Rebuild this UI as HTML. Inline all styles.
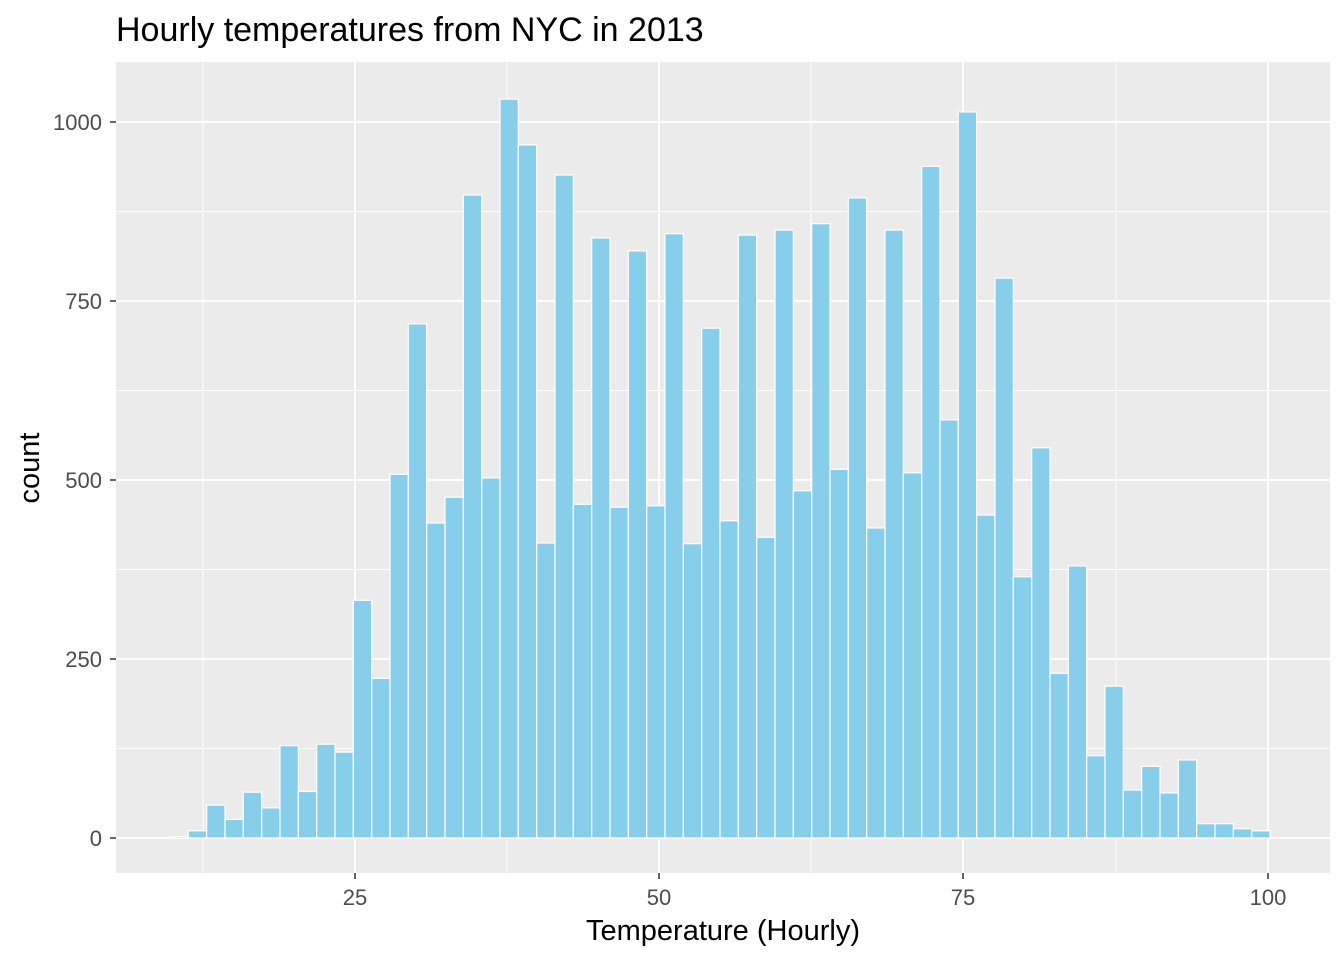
<!DOCTYPE html>
<html><head><meta charset="utf-8"><style>
html,body{margin:0;padding:0;background:#fff}
svg{display:block;font-family:"Liberation Sans",Arial,sans-serif}
</style></head><body>
<svg width="1344" height="960" viewBox="0 0 1344 960" xmlns="http://www.w3.org/2000/svg">
<rect width="1344" height="960" fill="#fff"/>
<rect x="116" y="62" width="1214" height="811" fill="#ebebeb"/>
<g stroke="#fff" stroke-width="1">
<line x1="116" x2="1330" y1="748.5" y2="748.5"/><line x1="116" x2="1330" y1="569.5" y2="569.5"/>
<line x1="116" x2="1330" y1="390.5" y2="390.5"/><line x1="116" x2="1330" y1="211.5" y2="211.5"/>
<line x1="203" x2="203" y1="62" y2="873"/><line x1="507" x2="507" y1="62" y2="873"/>
<line x1="811" x2="811" y1="62" y2="873"/><line x1="1116" x2="1116" y1="62" y2="873"/>
</g>
<g stroke="#fff" stroke-width="2">
<line x1="116" x2="1330" y1="838" y2="838"/><line x1="116" x2="1330" y1="659" y2="659"/>
<line x1="116" x2="1330" y1="480" y2="480"/><line x1="116" x2="1330" y1="301" y2="301"/>
<line x1="116" x2="1330" y1="122" y2="122"/>
<line x1="355" x2="355" y1="62" y2="873"/><line x1="659" x2="659" y1="62" y2="873"/>
<line x1="963" x2="963" y1="62" y2="873"/><line x1="1268" x2="1268" y1="62" y2="873"/>
</g>
<g fill="#87ceeb" stroke="#fff" stroke-width="1.2">
<rect x="170.0" y="836.6" width="18.33" height="1.4"/>
<rect x="188.3" y="830.8" width="18.33" height="7.2"/>
<rect x="206.7" y="805.1" width="18.33" height="32.9"/>
<rect x="225.0" y="819.4" width="18.33" height="18.6"/>
<rect x="243.3" y="792.2" width="18.33" height="45.8"/>
<rect x="261.7" y="807.9" width="18.33" height="30.1"/>
<rect x="280.0" y="745.6" width="18.33" height="92.4"/>
<rect x="298.3" y="791.5" width="18.33" height="46.5"/>
<rect x="316.7" y="744.2" width="18.33" height="93.8"/>
<rect x="335.0" y="752.1" width="18.33" height="85.9"/>
<rect x="353.3" y="600.3" width="18.33" height="237.7"/>
<rect x="371.7" y="678.3" width="18.33" height="159.7"/>
<rect x="390.0" y="474.3" width="18.33" height="363.7"/>
<rect x="408.3" y="323.9" width="18.33" height="514.1"/>
<rect x="426.7" y="523.0" width="18.33" height="315.0"/>
<rect x="445.0" y="497.2" width="18.33" height="340.8"/>
<rect x="463.3" y="195.0" width="18.33" height="643.0"/>
<rect x="481.7" y="477.9" width="18.33" height="360.1"/>
<rect x="500.0" y="99.1" width="18.33" height="738.9"/>
<rect x="518.3" y="144.9" width="18.33" height="693.1"/>
<rect x="536.7" y="543.0" width="18.33" height="295.0"/>
<rect x="555.0" y="175.0" width="18.33" height="663.0"/>
<rect x="573.3" y="504.3" width="18.33" height="333.7"/>
<rect x="591.7" y="238.0" width="18.33" height="600.0"/>
<rect x="610.0" y="507.2" width="18.33" height="330.8"/>
<rect x="628.3" y="250.9" width="18.33" height="587.1"/>
<rect x="646.7" y="505.8" width="18.33" height="332.2"/>
<rect x="665.0" y="233.7" width="18.33" height="604.3"/>
<rect x="683.3" y="543.7" width="18.33" height="294.3"/>
<rect x="701.7" y="328.2" width="18.33" height="509.8"/>
<rect x="720.0" y="520.8" width="18.33" height="317.2"/>
<rect x="738.3" y="235.1" width="18.33" height="602.9"/>
<rect x="756.7" y="537.3" width="18.33" height="300.7"/>
<rect x="775.0" y="230.1" width="18.33" height="607.9"/>
<rect x="793.3" y="490.7" width="18.33" height="347.3"/>
<rect x="811.7" y="223.7" width="18.33" height="614.3"/>
<rect x="830.0" y="469.3" width="18.33" height="368.7"/>
<rect x="848.3" y="197.9" width="18.33" height="640.1"/>
<rect x="866.7" y="528.0" width="18.33" height="310.0"/>
<rect x="885.0" y="230.1" width="18.33" height="607.9"/>
<rect x="903.3" y="472.8" width="18.33" height="365.2"/>
<rect x="921.7" y="166.4" width="18.33" height="671.6"/>
<rect x="940.0" y="419.9" width="18.33" height="418.1"/>
<rect x="958.3" y="112.0" width="18.33" height="726.0"/>
<rect x="976.7" y="515.1" width="18.33" height="322.9"/>
<rect x="995.0" y="278.1" width="18.33" height="559.9"/>
<rect x="1013.3" y="576.7" width="18.33" height="261.3"/>
<rect x="1031.7" y="447.8" width="18.33" height="390.2"/>
<rect x="1050.0" y="673.3" width="18.33" height="164.7"/>
<rect x="1068.3" y="565.9" width="18.33" height="272.1"/>
<rect x="1086.7" y="755.7" width="18.33" height="82.3"/>
<rect x="1105.0" y="686.2" width="18.33" height="151.8"/>
<rect x="1123.3" y="790.0" width="18.33" height="48.0"/>
<rect x="1141.7" y="766.4" width="18.33" height="71.6"/>
<rect x="1160.0" y="792.9" width="18.33" height="45.1"/>
<rect x="1178.3" y="760.0" width="18.33" height="78.0"/>
<rect x="1196.7" y="823.7" width="18.33" height="14.3"/>
<rect x="1215.0" y="823.7" width="18.33" height="14.3"/>
<rect x="1233.3" y="828.7" width="18.33" height="9.3"/>
<rect x="1251.7" y="830.8" width="18.33" height="7.2"/>
</g>
<g fill="#4d4d4d" font-size="22" text-anchor="end">
<text x="102" y="846">0</text><text x="102" y="667">250</text><text x="102" y="488">500</text>
<text x="102" y="309">750</text><text x="102" y="130">1000</text>
</g>
<g stroke="#333" stroke-width="1.5">
<line x1="110" x2="116" y1="838" y2="838"/><line x1="110" x2="116" y1="659" y2="659"/>
<line x1="110" x2="116" y1="480" y2="480"/><line x1="110" x2="116" y1="301" y2="301"/>
<line x1="110" x2="116" y1="122" y2="122"/>
<line x1="355" x2="355" y1="873" y2="879"/><line x1="659" x2="659" y1="873" y2="879"/>
<line x1="963" x2="963" y1="873" y2="879"/><line x1="1268" x2="1268" y1="873" y2="879"/>
</g>
<g fill="#4d4d4d" font-size="22" text-anchor="middle">
<text x="355" y="905">25</text><text x="659" y="905">50</text><text x="963" y="905">75</text><text x="1268" y="905">100</text>
</g>
<text x="723" y="940" font-size="29" text-anchor="middle" fill="#000">Temperature (Hourly)</text>
<text transform="translate(39,468) rotate(-90)" font-size="29" text-anchor="middle" fill="#000">count</text>
<text x="116" y="41" font-size="34" fill="#000">Hourly temperatures from NYC in 2013</text>
</svg>
</body></html>
